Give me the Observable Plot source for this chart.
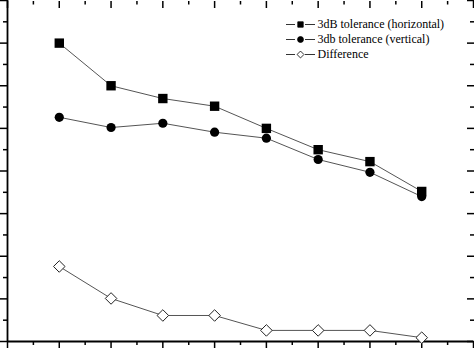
<!DOCTYPE html>
<html><head><meta charset="utf-8">
<script src="https://cdn.jsdelivr.net/npm/d3@7"></script>
<script src="https://cdn.jsdelivr.net/npm/@observablehq/plot@0.6"></script>
<style>html,body{margin:0;padding:0;background:#fff} svg text{font-family:"Liberation Serif","Times New Roman",Times,serif !important;}</style>
</head><body><div id="chart"></div>
<script>
const positions = [1, 2, 3, 4, 5, 6, 7, 8];
const horizontal = [7.0, 6.0, 5.7, 5.52, 5.0, 4.5, 4.22, 3.52];
const vertical = [5.26, 5.02, 5.12, 4.91, 4.77, 4.27, 3.97, 3.40];
const difference = [1.76, 1.01, 0.61, 0.61, 0.26, 0.26, 0.26, 0.09];
const seriesNames = ["3dB tolerance (horizontal)", "3db tolerance (vertical)", "Difference"];
const majorX = d3.range(0, 10, 1);
const minorX = d3.range(0.5, 9, 1);
const majorY = d3.range(0, 9, 1);
const minorY = d3.range(0.5, 8, 1);

const W = 474, H = 348, ML = 7, MR = 1, MT = 0, MB = 7;
const xDom = [0, 9], yDom = [0, 8];
const px2x = p => xDom[0] + (p - ML) / (W - MR - ML) * (xDom[1] - xDom[0]);
const px2y = p => yDom[0] + (H - MB - p) / (H - MB - MT) * (yDom[1] - yDom[0]);

const rows = (vals) => positions.map((x, i) => ({x, y: vals[i]}));
const sH = rows(horizontal), sV = rows(vertical), sD = rows(difference);
const lineColor = "#555";
const serif = "'Liberation Serif', 'Times New Roman', Times, serif";

const legendRowsY = [24, 39, 54];
const legendData = seriesNames.map((name, i) => ({name, y: px2y(legendRowsY[i]), sym: ["square","circle","diamond2"][i], fill: i < 2 ? "black" : "white", r: [2.8, 2.6, 2.9][i]}));

const axisOpts = {tickFormat: () => "", label: null, stroke: "black", strokeWidth: 1.5};
const chart = Plot.plot({
  width: W, height: H,
  marginLeft: ML, marginRight: MR, marginTop: MT, marginBottom: MB,
  style: {background: "white", fontFamily: serif},
  x: {domain: xDom, label: null},
  y: {domain: yDom, label: null},
  marks: [
    Plot.axisX({anchor: "bottom", ticks: majorX, tickSize: 7, ...axisOpts}),
    Plot.axisX({anchor: "bottom", ticks: minorX, tickSize: 4, ...axisOpts}),
    Plot.axisX({anchor: "top", ticks: majorX, tickSize: -7, ...axisOpts}),
    Plot.axisX({anchor: "top", ticks: minorX, tickSize: -3.5, ...axisOpts}),
    Plot.axisY({anchor: "left", ticks: majorY, tickSize: 7, ...axisOpts}),
    Plot.axisY({anchor: "left", ticks: minorY, tickSize: 4, ...axisOpts}),
    Plot.axisY({anchor: "right", ticks: majorY, tickSize: -7, ...axisOpts}),
    Plot.axisY({anchor: "right", ticks: minorY, tickSize: -4, ...axisOpts}),
    Plot.ruleX([0], {stroke: "black", strokeWidth: 1.8}),
    Plot.ruleY([0], {stroke: "black", strokeWidth: 1.8}),
    Plot.line(sH, {x: "x", y: "y", stroke: lineColor, strokeWidth: 1}),
    Plot.line(sV, {x: "x", y: "y", stroke: lineColor, strokeWidth: 1}),
    Plot.line(sD, {x: "x", y: "y", stroke: lineColor, strokeWidth: 1}),
    Plot.dot(sH, {x: "x", y: "y", symbol: "square", r: 5.3, fill: "black", stroke: "none"}),
    Plot.dot(sV, {x: "x", y: "y", symbol: "circle", r: 4.6, fill: "black", stroke: "none"}),
    Plot.dot(sD, {x: "x", y: "y", symbol: "diamond2", r: 5.2, fill: "white", stroke: "#222", strokeWidth: 1}),
    // legend
    Plot.ruleY(legendData, {y: "y", x1: px2x(286), x2: px2x(295), stroke: "#333", strokeWidth: 1}),
    Plot.ruleY(legendData, {y: "y", x1: px2x(305), x2: px2x(315), stroke: "#333", strokeWidth: 1}),
    Plot.dot(legendData, {x: px2x(300), y: "y", symbol: "sym", r: "r", fill: "fill", stroke: "black", strokeWidth: 0.8}),
    Plot.text(legendData, {x: px2x(317), y: "y", text: "name", textAnchor: "start", fontSize: 12, fontFamily: serif, fill: "black"})
  ]
});
document.getElementById("chart").appendChild(chart);
</script>
</body></html>
